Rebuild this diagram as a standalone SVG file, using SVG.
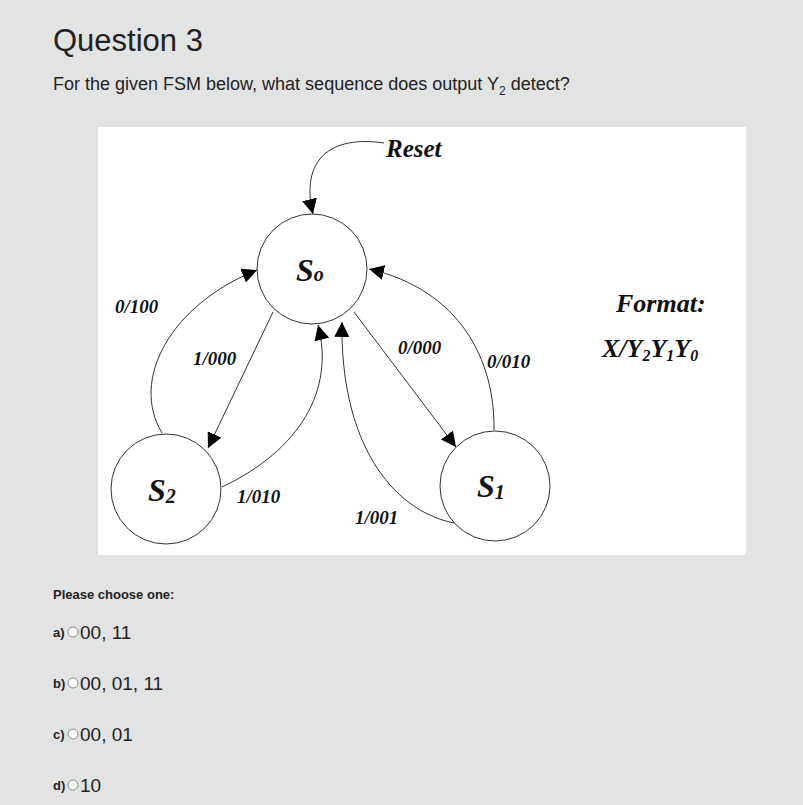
<svg xmlns="http://www.w3.org/2000/svg" width="803" height="805" viewBox="0 0 803 805">
<style>
.h{font-family:"Liberation Sans",Arial,sans-serif;fill:#222}
.t{font-family:"Liberation Serif","Times New Roman",serif;font-style:italic;font-weight:bold;fill:#111}
.st{fill:#fff;stroke:#333;stroke-width:1}
.e{fill:none;stroke:#333;stroke-width:1}
.r{fill:#fff;stroke:#888;stroke-width:1}
</style>
<defs><marker id="a" viewBox="0 0 10 10" refX="10" refY="5" markerWidth="15" markerHeight="15" markerUnits="userSpaceOnUse" orient="auto"><path d="M0,0L10,5L0,10z" fill="#000"/></marker></defs>
<rect width="803" height="805" fill="#e2e3e3"/>
<text class="h" x="53" y="51" font-size="31">Question 3</text>
<text class="h" x="53" y="90" font-size="18">For the given FSM below, what sequence does output Y<tspan font-size="12" dy="5">2</tspan><tspan dy="-5"> detect?</tspan></text>
<rect x="98" y="127" width="648" height="428" fill="#fff"/>
<g id="connectors">
<path class="e" marker-end="url(#a)" d="M384,143 C330,135 300,160 313,214"/>
<path class="e" marker-end="url(#a)" d="M162,433 C130,380 170,305 257,270"/>
<path class="e" marker-end="url(#a)" d="M273,312 L208,448"/>
<path class="e" marker-end="url(#a)" d="M222,487 C300,450 335,390 318,325"/>
<path class="e" marker-end="url(#a)" d="M354,312 L456,447"/>
<path class="e" marker-end="url(#a)" d="M494,430 C495,360 460,290 369,269"/>
<path class="e" marker-end="url(#a)" d="M454,523 C390,510 340,440 342,322"/>
</g>
<g id="S0"><circle class="st" cx="312" cy="269" r="55"/><text class="t" x="296" y="281" font-size="32">S<tspan font-size="20">o</tspan></text></g>
<g id="S2"><circle class="st" cx="166" cy="489" r="55"/><text class="t" x="148" y="501" font-size="32">S<tspan font-size="20" dy="2">2</tspan></text></g>
<g id="S1"><circle class="st" cx="495" cy="486" r="55"/><text class="t" x="477" y="497" font-size="32">S<tspan font-size="20" dy="2">1</tspan></text></g>
<g id="labels">
<text class="t" x="386" y="157" font-size="25">Reset</text>
<text class="t" x="115" y="313" font-size="19" font-weight="normal">0/100</text>
<text class="t" x="193" y="365" font-size="19" font-weight="normal">1/000</text>
<text class="t" x="398" y="354" font-size="19" font-weight="normal">0/000</text>
<text class="t" x="487" y="368" font-size="19" font-weight="normal">0/010</text>
<text class="t" x="237" y="503" font-size="19" font-weight="normal">1/010</text>
<text class="t" x="355" y="524" font-size="19" font-weight="normal">1/001</text>
<text class="t" x="616" y="312" font-size="26">Format:</text>
<text class="t" x="602" y="357" font-size="26">X/Y<tspan font-size="16" dy="4">2</tspan><tspan dy="-4">Y</tspan><tspan font-size="16" dy="4">1</tspan><tspan dy="-4">Y</tspan><tspan font-size="16" dy="4">0</tspan></text>
</g>
<text class="h" x="53" y="599" font-size="13" font-weight="bold">Please choose one:</text>
<g class="h" font-size="19">
<text x="53" y="637" font-size="13" font-weight="bold">a)</text><circle class="r" cx="73" cy="632" r="5"/><text x="80" y="639">00, 11</text>
<text x="53" y="688" font-size="13" font-weight="bold">b)</text><circle class="r" cx="73" cy="683" r="5"/><text x="80" y="690">00, 01, 11</text>
<text x="53" y="739" font-size="13" font-weight="bold">c)</text><circle class="r" cx="73" cy="734" r="5"/><text x="80" y="741">00, 01</text>
<text x="53" y="790" font-size="13" font-weight="bold">d)</text><circle class="r" cx="73" cy="785" r="5"/><text x="80" y="792">10</text>
</g>
</svg>
